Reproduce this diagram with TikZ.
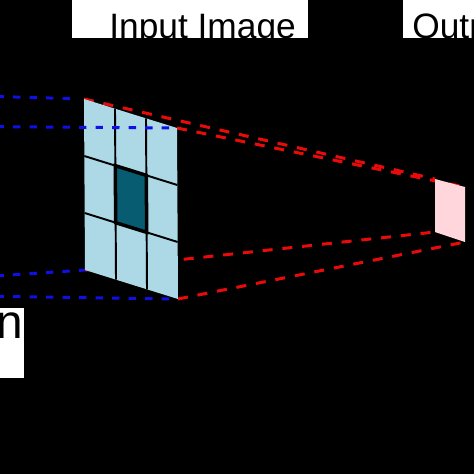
\documentclass[tikz,border=0pt]{standalone}
\usepackage{fontspec}
\newfontfamily\labelfont{Liberation Sans}
\usetikzlibrary{calc}

\definecolor{cellblue}{RGB}{173,216,230}
\definecolor{celldark}{RGB}{8,92,114}
\definecolor{outpink}{RGB}{255,214,220}
\definecolor{rayblue}{RGB}{15,15,230}
\definecolor{rayred}{RGB}{235,10,10}

\begin{document}
\begin{tikzpicture}[
        x=0.02cm, y=-0.02cm,
        bluray/.style={draw=rayblue, line width=1.7pt, dash pattern=on 4.2pt off 5.2pt},
        redray/.style={draw=rayred, line width=1.7pt, dash pattern=on 5.7pt off 5.6pt},
        gridline/.style={draw=black, line width=1.1pt},
        title/.style={font=\labelfont\fontsize{20.1pt}{24pt}\selectfont, inner sep=0pt, anchor=base west}
    ]
        \useasboundingbox (0,0) rectangle (474,474);
        \clip (0,0) rectangle (474,474);
        \fill[black] (0,0) rectangle (474,474);

        % Corners
        \coordinate (gtl) at (84,99);
        \coordinate (gtr) at (177,128);
        \coordinate (gbl) at (85,270);
        \coordinate (gbr) at (178,299);
        \coordinate (otl) at (435,179);
        \coordinate (otr) at (465,187);
        \coordinate (obl) at (435,232);
        \coordinate (obr) at (465,242);

        % Red rays to the output
        \draw[redray] (gtl) -- (otl);
        \draw[redray] (gtr) -- (otr);
        \draw[redray] (gbl) -- (obl);
        \draw[redray] (gbr) -- (obr);

        % Output pixel
        \fill[outpink] (otl) -- (otr) -- (obr) -- (obl) -- cycle;

        % Input grid
        \fill[cellblue] (gtl) -- (gtr) -- (gbr) -- (gbl) -- cycle;
        \fill[celldark] (115.33,165.67) -- (146.33,175.33) -- (146.67,232.33) -- (115.67,222.67) -- cycle;
        \draw[gridline] ($(gtl)!1/3!(gtr)$) -- ($(gbl)!1/3!(gbr)$);
        \draw[gridline] ($(gtl)!2/3!(gtr)$) -- ($(gbl)!2/3!(gbr)$);
        \draw[gridline] ($(gtl)!1/3!(gbl)$) -- ($(gtr)!1/3!(gbr)$);
        \draw[gridline] ($(gtl)!2/3!(gbl)$) -- ($(gtr)!2/3!(gbr)$);
        \draw[gridline, line width=2pt] (115.33,165.67) -- (146.33,175.33) -- (146.67,232.33) -- (115.67,222.67) -- cycle;

        % Blue rays from the left
        \coordinate (b1) at (-20,96);
        \coordinate (b2) at (-20,126.5);
        \coordinate (b3) at (-20,277);
        \coordinate (b4) at (-20,296);
        \draw[bluray, shorten >=7.5pt] (b1) -- (gtl);
        \draw[bluray] (b2) -- (gtr);
        \draw[bluray] (b3) -- (gbl);
        \draw[bluray] (b4) -- (gbr);

        % Labels
        \begin{scope}
            \clip (72,-10) rectangle (308,37.5);
            \fill[white] (72,-10) rectangle (308,37.5);
            \node[title] (intitle) at (109,38.5) {Input Image};
        \end{scope}
        \begin{scope}
            \clip (403,-10) rectangle (480,37.5);
            \fill[white] (403,-10) rectangle (480,37.5);
            \node[title] (outtitle) at (412,38.5) {Output};
        \end{scope}
        \fill[white] (-10,308) rectangle (24,378);
        \node[font=\labelfont\fontsize{27.2pt}{32pt}\selectfont, inner sep=0pt, anchor=base east] (sidelabel) at (23.5,338) {n};

    \end{tikzpicture}
\end{document}
